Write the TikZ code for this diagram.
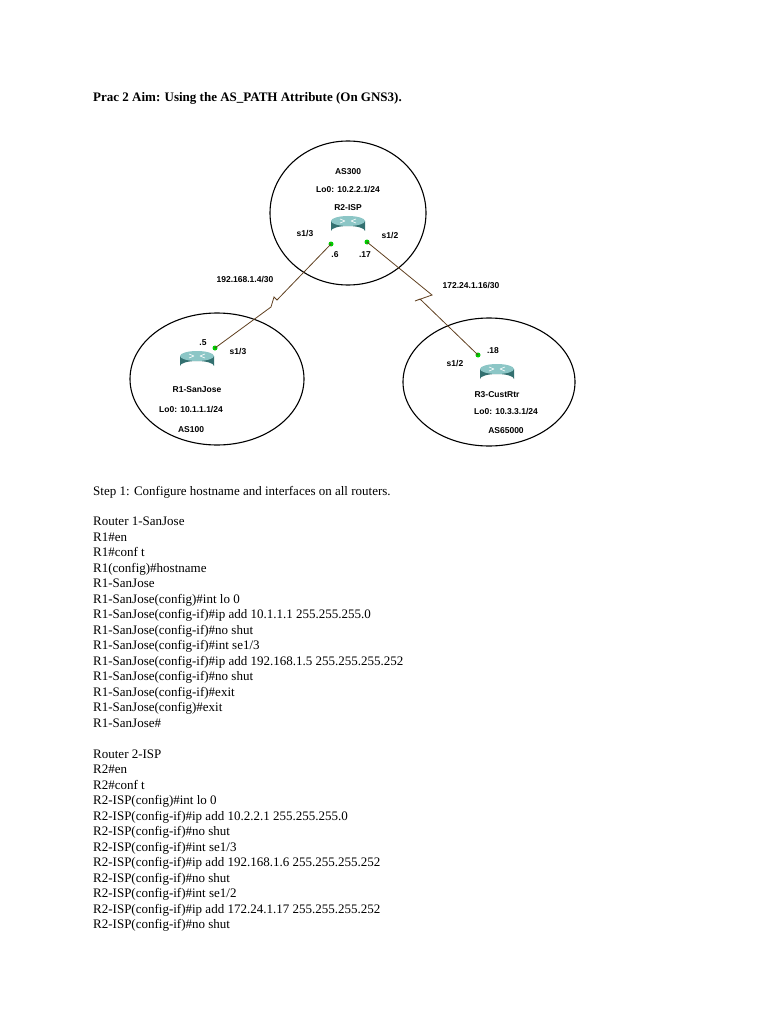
\documentclass[tikz,border=0pt]{standalone}
\usepackage{fontspec}
\setmainfont{Liberation Serif}
\newfontfamily\dfont{Liberation Sans}
\begin{document}
\begin{tikzpicture}[x=1pt,y=-1pt,
  lab/.style={font=\dfont\bfseries\fontsize{8.5}{10}\selectfont,inner sep=0pt},
  txt/.style={font=\fontsize{13}{15}\selectfont,anchor=base west,inner sep=0pt},
  asring/.style={draw,line width=1.1pt},
  dot/.style={circle,fill=green!80!black,inner sep=0pt,minimum size=5pt},
  link/.style={draw=brown!50!black,line width=0.8pt}]
\useasboundingbox (0,0) rectangle (768,1024);
\newcommand\router[2]{%
  \begin{scope}[shift={(#1)}]
  \fill[teal!60!black!80] (-17,-4) -- (-17,6) arc[start angle=180,end angle=360,x radius=17,y radius=5] -- (17,-4) -- cycle;
  \fill[teal!45] (0,-4) ellipse[x radius=17,y radius=5];
  \draw[white,line width=0.6pt] (-8,-6)--(-3,-4) (-8,-2)--(-3,-4) (8,-6)--(3,-4) (8,-2)--(3,-4);
  \coordinate (#2) at (0,0);
  \end{scope}}
\node[txt,font=\bfseries\fontsize{13}{15}\selectfont] (title) at (93,102) {Prac 2 Aim: Using the AS\_PATH Attribute (On GNS3).};
% AS rings
\draw[asring] (348,213) ellipse[x radius=78,y radius=72];
\draw[asring] (217,379) ellipse[x radius=87,y radius=66];
\draw[asring] (489,382) ellipse[x radius=86,y radius=64];
\router{348,225}{r2}
\router{197,360}{r1}
\router{497,373}{r3}
\node[dot] (d2a) at (331,244) {};
\node[dot] (d2b) at (367,242) {};
\node[dot] (d1) at (215,348) {};
\node[dot] (d3) at (478,355) {};
\draw[link] (d1.center) -- (271,307) -- (274,297) -- (277,300) -- (d2a.center);
\draw[link] (d2b.center) -- (432,295) -- (415,301) -- (420,299) -- (d3.center);
% labels
\node[lab] (t1) at (348,172) {AS300};
\node[lab] (t2) at (348,190) {Lo0: 10.2.2.1/24};
\node[lab] (t3) at (348,208) {R2-ISP};
\node[lab] (t4) at (305,234) {s1/3};
\node[lab] (t5) at (390,236) {s1/2};
\node[lab] (t6) at (335,255) {.6};
\node[lab] (t7) at (365,255) {.17};
\node[lab] (t8) at (245,280) {192.168.1.4/30};
\node[lab] (t9) at (471,286) {172.24.1.16/30};
\node[lab] (t10) at (203,343) {.5};
\node[lab] (t11) at (238,352) {s1/3};
\node[lab] (t12) at (197,390) {R1-SanJose};
\node[lab] (t13) at (191,410) {Lo0: 10.1.1.1/24};
\node[lab] (t14) at (191,430) {AS100};
\node[lab] (t15) at (493,351) {.18};
\node[lab] (t16) at (455,364) {s1/2};
\node[lab] (t17) at (497,395) {R3-CustRtr};
\node[lab] (t18) at (506,412) {Lo0: 10.3.3.1/24};
\node[lab] (t19) at (506,431) {AS65000};
% text
\node[txt] (s1) at (93,495) {Step 1: Configure hostname and interfaces on all routers.};
\foreach \t [count=\i from 0] in {Router 1-SanJose,R1\#en,R1\#conf t,R1(config)\#hostname,R1-SanJose,R1-SanJose(config)\#int lo 0,R1-SanJose(config-if)\#ip add 10.1.1.1 255.255.255.0,R1-SanJose(config-if)\#no shut,R1-SanJose(config-if)\#int se1/3,R1-SanJose(config-if)\#ip add 192.168.1.5 255.255.255.252,R1-SanJose(config-if)\#no shut,R1-SanJose(config-if)\#exit,R1-SanJose(config)\#exit,R1-SanJose\#}
  \node[txt] (a\i) at (93,{525.5+15.54*\i}) {\t};
\foreach \t [count=\i from 0] in {Router 2-ISP,R2\#en,R2\#conf t,R2-ISP(config)\#int lo 0,R2-ISP(config-if)\#ip add 10.2.2.1 255.255.255.0,R2-ISP(config-if)\#no shut,R2-ISP(config-if)\#int se1/3,R2-ISP(config-if)\#ip add 192.168.1.6 255.255.255.252,R2-ISP(config-if)\#no shut,R2-ISP(config-if)\#int se1/2,R2-ISP(config-if)\#ip add 172.24.1.17 255.255.255.252,R2-ISP(config-if)\#no shut}
  \node[txt] (b\i) at (93,{758+15.54*\i}) {\t};
\end{tikzpicture}
\end{document}
